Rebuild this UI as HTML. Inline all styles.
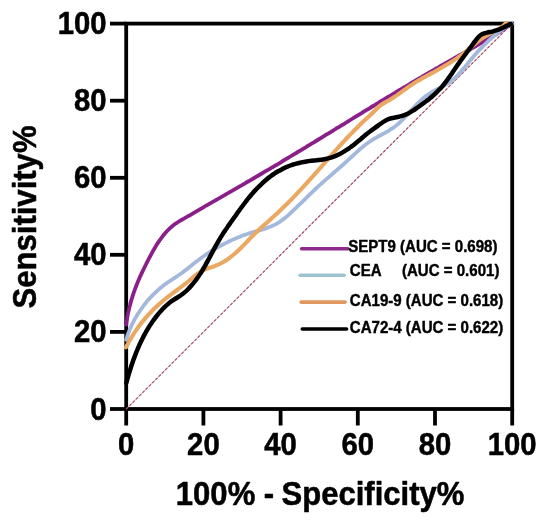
<!DOCTYPE html>
<html><head><meta charset="utf-8"><title>ROC</title>
<style>
html,body{margin:0;padding:0;background:#fff}
body{width:550px;height:525px;overflow:hidden}
svg{display:block}
text{font-family:"Liberation Sans",sans-serif;font-weight:bold;fill:#000;stroke:#000;stroke-width:0.5px;stroke-linejoin:round}
.tk{font-size:29.3px}
.lb{font-size:31.05px}
.lg{font-size:15.05px;stroke-width:0.4px}
</style></head><body>
<svg width="550" height="525" viewBox="0 0 550 525">
<rect width="550" height="525" fill="#fff"/>
<rect x="126.2" y="23.6" width="386.0" height="385.4" fill="none" stroke="#000" stroke-width="3.8"/>
<line x1="110.0" y1="409.0" x2="126.2" y2="409.0" stroke="#000" stroke-width="3.8"/>
<line x1="126.2" y1="409.0" x2="126.2" y2="425.5" stroke="#000" stroke-width="3.8"/>
<text class="tk" transform="translate(106.5 419.5) scale(1 1.065)" text-anchor="end">0</text>
<text class="tk" transform="translate(126.2 455.3) scale(1 1.065)" text-anchor="middle">0</text>
<line x1="110.0" y1="331.9" x2="126.2" y2="331.9" stroke="#000" stroke-width="3.8"/>
<line x1="203.4" y1="409.0" x2="203.4" y2="425.5" stroke="#000" stroke-width="3.8"/>
<text class="tk" transform="translate(106.5 342.4) scale(1 1.065)" text-anchor="end">20</text>
<text class="tk" transform="translate(203.4 455.3) scale(1 1.065)" text-anchor="middle">20</text>
<line x1="110.0" y1="254.8" x2="126.2" y2="254.8" stroke="#000" stroke-width="3.8"/>
<line x1="280.6" y1="409.0" x2="280.6" y2="425.5" stroke="#000" stroke-width="3.8"/>
<text class="tk" transform="translate(106.5 265.3) scale(1 1.065)" text-anchor="end">40</text>
<text class="tk" transform="translate(280.6 455.3) scale(1 1.065)" text-anchor="middle">40</text>
<line x1="110.0" y1="177.8" x2="126.2" y2="177.8" stroke="#000" stroke-width="3.8"/>
<line x1="357.8" y1="409.0" x2="357.8" y2="425.5" stroke="#000" stroke-width="3.8"/>
<text class="tk" transform="translate(106.5 188.3) scale(1 1.065)" text-anchor="end">60</text>
<text class="tk" transform="translate(357.8 455.3) scale(1 1.065)" text-anchor="middle">60</text>
<line x1="110.0" y1="100.7" x2="126.2" y2="100.7" stroke="#000" stroke-width="3.8"/>
<line x1="435.0" y1="409.0" x2="435.0" y2="425.5" stroke="#000" stroke-width="3.8"/>
<text class="tk" transform="translate(106.5 111.2) scale(1 1.065)" text-anchor="end">80</text>
<text class="tk" transform="translate(435.0 455.3) scale(1 1.065)" text-anchor="middle">80</text>
<line x1="110.0" y1="23.6" x2="126.2" y2="23.6" stroke="#000" stroke-width="3.8"/>
<line x1="512.2" y1="409.0" x2="512.2" y2="425.5" stroke="#000" stroke-width="3.8"/>
<text class="tk" transform="translate(106.5 34.1) scale(1 1.065)" text-anchor="end">100</text>
<text class="tk" transform="translate(512.2 455.3) scale(1 1.065)" text-anchor="middle">100</text>
<line x1="126.2" y1="409.0" x2="512.2" y2="23.6" stroke="#dda0aa" stroke-width="1.0"/>
<line x1="126.2" y1="409.0" x2="512.2" y2="23.6" stroke="#a25265" stroke-width="1.1" stroke-dasharray="2.8 1.8"/>
<path d="M126.3 324.5C126.4 323.7 126.7 321.1 127.0 319.5C127.2 317.8 127.5 316.1 127.8 314.5C128.1 312.8 128.5 311.2 128.9 309.6C129.2 307.9 129.6 306.3 130.1 304.7C130.5 303.1 130.9 301.5 131.4 299.9C131.9 298.3 132.4 296.8 132.9 295.2C133.4 293.6 134.0 292.1 134.5 290.5C135.1 288.9 135.7 287.4 136.3 285.8C136.9 284.3 137.5 282.8 138.1 281.2C138.8 279.7 139.4 278.2 140.1 276.6C140.8 275.1 141.5 273.6 142.2 272.1C142.9 270.6 143.6 269.1 144.4 267.6C145.1 266.1 145.8 264.6 146.6 263.1C147.4 261.6 148.1 260.1 148.9 258.6C149.7 257.1 150.5 255.6 151.3 254.1C152.1 252.6 152.9 251.1 153.8 249.7C154.6 248.2 155.5 246.8 156.3 245.3C157.2 243.9 158.1 242.5 159.1 241.1C160.0 239.8 161.0 238.4 162.0 237.1C163.0 235.8 164.1 234.5 165.1 233.3C166.2 232.0 167.3 230.8 168.5 229.7C169.7 228.5 170.9 227.4 172.2 226.3C173.4 225.3 174.7 224.3 176.1 223.3C177.5 222.4 178.9 221.5 180.3 220.6C181.7 219.8 183.2 219.0 184.7 218.1C186.2 217.3 187.7 216.5 189.1 215.7C190.6 214.9 192.0 214.0 193.4 213.2C194.9 212.3 196.3 211.5 197.7 210.6C199.1 209.8 200.6 208.9 202.0 208.1C203.4 207.2 204.9 206.4 206.3 205.5C207.7 204.7 209.2 203.9 210.6 203.1C212.1 202.2 213.5 201.4 215.0 200.6C216.4 199.7 217.9 198.9 219.4 198.1C220.8 197.3 222.3 196.4 223.7 195.6C225.1 194.8 226.6 193.9 228.0 193.1C229.5 192.3 230.9 191.4 232.4 190.6C233.8 189.8 235.3 188.9 236.7 188.1C238.2 187.3 239.6 186.4 241.1 185.6C242.5 184.8 244.0 183.9 245.4 183.1C246.8 182.2 248.3 181.4 249.7 180.6C251.2 179.7 252.6 178.9 254.1 178.0C255.5 177.2 256.9 176.4 258.4 175.5C259.8 174.7 261.3 173.8 262.7 173.0C264.1 172.1 265.6 171.3 267.0 170.4C268.5 169.6 269.9 168.7 271.3 167.9C272.8 167.0 274.2 166.2 275.6 165.3C277.1 164.5 278.5 163.6 279.9 162.8C281.4 161.9 282.8 161.1 284.2 160.2C285.7 159.3 287.1 158.5 288.5 157.6C290.0 156.8 291.4 155.9 292.8 155.0C294.3 154.2 295.7 153.3 297.1 152.5C298.6 151.6 300.0 150.7 301.4 149.9C302.8 149.0 304.3 148.1 305.7 147.3C307.1 146.4 308.6 145.5 310.0 144.7C311.4 143.8 312.8 142.9 314.3 142.1C315.7 141.2 317.1 140.3 318.5 139.5C320.0 138.6 321.4 137.7 322.8 136.8C324.2 136.0 325.7 135.1 327.1 134.2C328.5 133.4 329.9 132.5 331.4 131.6C332.8 130.7 334.2 129.9 335.6 129.0C337.1 128.1 338.5 127.2 339.9 126.4C341.3 125.5 342.8 124.6 344.2 123.8C345.6 122.9 347.0 122.0 348.5 121.1C349.9 120.3 351.3 119.4 352.7 118.5C354.1 117.6 355.6 116.8 357.0 115.9C358.4 115.0 359.8 114.2 361.3 113.3C362.7 112.4 364.1 111.5 365.5 110.7C367.0 109.8 368.4 108.9 369.8 108.1C371.2 107.2 372.7 106.3 374.1 105.5C375.5 104.6 376.9 103.7 378.4 102.9C379.8 102.0 381.2 101.1 382.7 100.3C384.1 99.4 385.5 98.5 386.9 97.7C388.4 96.8 389.8 95.9 391.2 95.1C392.7 94.2 394.1 93.4 395.5 92.5C397.0 91.6 398.4 90.8 399.8 89.9C401.3 89.1 402.7 88.2 404.1 87.3C405.6 86.5 407.0 85.6 408.4 84.8C409.9 83.9 411.3 83.1 412.7 82.2C414.2 81.4 415.6 80.5 417.0 79.7C418.5 78.8 419.9 78.0 421.4 77.2C422.8 76.3 424.2 75.5 425.7 74.6C427.1 73.8 428.6 72.9 430.0 72.1C431.5 71.3 432.9 70.4 434.4 69.6C435.8 68.8 437.2 67.9 438.7 67.1C440.1 66.3 441.6 65.5 443.0 64.6C444.5 63.8 445.9 63.0 447.4 62.2C448.9 61.3 450.3 60.5 451.8 59.7C453.2 58.9 454.7 58.1 456.1 57.2C457.6 56.4 459.0 55.6 460.5 54.8C461.9 54.0 463.4 53.2 464.8 52.3C466.3 51.5 467.8 50.7 469.2 49.9C470.7 49.0 472.1 48.2 473.6 47.4C475.0 46.6 476.5 45.8 477.9 44.9C479.4 44.1 480.8 43.3 482.3 42.4C483.7 41.6 485.2 40.8 486.6 39.9C488.0 39.1 489.5 38.2 490.9 37.4C492.3 36.5 493.8 35.6 495.2 34.8C496.6 33.9 498.0 33.0 499.4 32.1C500.8 31.2 502.2 30.3 503.6 29.3C505.0 28.4 506.4 27.5 507.7 26.5C509.1 25.6 511.1 24.1 511.8 23.6" fill="none" stroke="#8b1f8a" stroke-width="3.8" stroke-linecap="round" stroke-linejoin="round"/>
<path d="M126.2 339.7C126.5 338.9 127.2 336.5 127.7 334.9C128.3 333.4 128.9 331.8 129.5 330.3C130.1 328.7 130.8 327.2 131.5 325.6C132.2 324.1 133.0 322.6 133.7 321.1C134.5 319.6 135.3 318.2 136.2 316.7C137.1 315.3 137.9 313.8 138.9 312.4C139.8 311.0 140.7 309.6 141.7 308.3C142.7 306.9 143.7 305.5 144.7 304.2C145.8 302.9 146.8 301.6 147.9 300.3C149.0 299.1 150.1 297.8 151.3 296.6C152.4 295.4 153.6 294.2 154.8 293.1C156.0 291.9 157.2 290.8 158.5 289.7C159.7 288.6 161.0 287.5 162.3 286.5C163.6 285.4 165.0 284.4 166.3 283.4C167.7 282.5 169.1 281.5 170.5 280.6C171.9 279.7 173.3 278.7 174.7 277.8C176.1 276.9 177.5 276.0 178.9 275.0C180.3 274.1 181.6 273.1 183.0 272.1C184.3 271.1 185.6 270.1 187.0 269.1C188.3 268.0 189.6 267.0 190.9 265.9C192.2 264.9 193.5 263.8 194.8 262.8C196.1 261.8 197.4 260.8 198.8 259.8C200.1 258.8 201.5 257.8 202.9 256.8C204.2 255.8 205.6 254.9 207.0 253.9C208.4 253.0 209.9 252.1 211.3 251.2C212.7 250.3 214.1 249.4 215.6 248.6C217.0 247.7 218.5 246.9 220.0 246.1C221.4 245.3 222.9 244.5 224.4 243.7C225.9 243.0 227.4 242.2 228.9 241.5C230.4 240.8 231.9 240.1 233.4 239.4C234.9 238.7 236.5 238.1 238.0 237.4C239.6 236.8 241.1 236.2 242.7 235.6C244.3 235.0 245.8 234.5 247.4 234.0C249.0 233.4 250.6 232.9 252.2 232.4C253.9 231.9 255.5 231.5 257.1 231.0C258.7 230.6 260.4 230.1 262.0 229.6C263.6 229.1 265.2 228.6 266.8 228.1C268.4 227.5 269.9 226.9 271.4 226.3C273.0 225.6 274.5 224.9 275.9 224.1C277.4 223.3 278.8 222.5 280.2 221.6C281.5 220.6 282.9 219.6 284.2 218.6C285.5 217.6 286.8 216.5 288.1 215.4C289.3 214.3 290.6 213.1 291.8 211.9C293.0 210.8 294.3 209.6 295.5 208.4C296.7 207.2 297.9 206.0 299.1 204.8C300.3 203.6 301.5 202.5 302.7 201.3C303.9 200.1 305.1 198.9 306.3 197.8C307.5 196.6 308.7 195.5 309.9 194.3C311.1 193.2 312.3 192.0 313.5 190.9C314.7 189.7 315.9 188.6 317.1 187.5C318.3 186.3 319.6 185.2 320.8 184.1C322.0 183.0 323.3 181.9 324.5 180.8C325.8 179.7 327.0 178.6 328.3 177.5C329.6 176.4 330.8 175.3 332.1 174.2C333.4 173.1 334.6 172.0 335.9 170.9C337.2 169.8 338.4 168.7 339.7 167.6C341.0 166.5 342.2 165.4 343.5 164.3C344.7 163.1 346.0 162.0 347.2 160.9C348.5 159.8 349.7 158.6 350.9 157.5C352.2 156.4 353.4 155.2 354.6 154.1C355.9 152.9 357.1 151.8 358.3 150.7C359.6 149.6 360.8 148.5 362.1 147.4C363.4 146.4 364.7 145.3 366.0 144.3C367.3 143.3 368.7 142.3 370.1 141.4C371.5 140.4 372.9 139.6 374.3 138.7C375.8 137.8 377.3 137.0 378.7 136.2C380.2 135.4 381.7 134.6 383.2 133.8C384.7 133.0 386.2 132.1 387.6 131.3C389.1 130.4 390.5 129.6 391.9 128.7C393.3 127.7 394.7 126.8 396.0 125.8C397.3 124.7 398.5 123.7 399.8 122.5C401.0 121.4 402.2 120.2 403.4 119.0C404.5 117.8 405.7 116.6 406.8 115.3C407.9 114.1 409.0 112.8 410.2 111.6C411.3 110.3 412.4 109.0 413.5 107.8C414.7 106.6 415.8 105.3 417.0 104.1C418.1 102.9 419.3 101.7 420.5 100.6C421.8 99.5 423.0 98.4 424.3 97.3C425.6 96.3 426.9 95.3 428.3 94.3C429.6 93.4 431.0 92.5 432.5 91.6C433.9 90.8 435.4 90.0 436.9 89.2C438.4 88.5 440.0 87.7 441.5 87.0C443.0 86.2 444.5 85.5 445.9 84.6C447.4 83.8 448.8 82.9 450.1 81.9C451.4 81.0 452.7 79.9 454.0 78.8C455.2 77.7 456.4 76.5 457.5 75.4C458.7 74.2 459.8 72.9 460.9 71.7C462.0 70.4 463.1 69.1 464.2 67.8C465.2 66.5 466.3 65.2 467.4 63.9C468.4 62.6 469.5 61.3 470.6 60.0C471.7 58.7 472.8 57.4 473.9 56.1C475.0 54.8 476.1 53.6 477.2 52.3C478.3 51.1 479.4 49.9 480.6 48.6C481.7 47.4 482.9 46.2 484.1 45.1C485.3 43.9 486.5 42.7 487.7 41.6C488.9 40.4 490.1 39.3 491.4 38.2C492.6 37.1 493.9 36.0 495.2 35.0C496.5 33.9 497.8 32.9 499.1 31.9C500.5 30.9 501.8 29.9 503.2 29.0C504.6 28.0 506.0 27.1 507.4 26.2C508.9 25.3 511.1 24.0 511.8 23.6" fill="none" stroke="#a3b9dc" stroke-width="3.8" stroke-linecap="round" stroke-linejoin="round"/>
<path d="M126.0 347.3C126.4 346.6 127.5 344.3 128.3 342.9C129.1 341.4 129.9 339.9 130.8 338.5C131.6 337.1 132.5 335.7 133.4 334.3C134.3 332.8 135.2 331.5 136.2 330.1C137.1 328.7 138.1 327.4 139.1 326.0C140.1 324.7 141.1 323.4 142.1 322.1C143.2 320.8 144.3 319.5 145.3 318.2C146.4 317.0 147.5 315.7 148.7 314.5C149.8 313.2 151.0 312.0 152.1 310.8C153.3 309.7 154.5 308.5 155.7 307.3C156.9 306.2 158.1 305.0 159.4 303.9C160.6 302.8 161.9 301.7 163.1 300.7C164.4 299.6 165.7 298.5 167.0 297.5C168.3 296.5 169.7 295.5 171.0 294.5C172.3 293.5 173.6 292.5 175.0 291.5C176.3 290.5 177.7 289.5 179.0 288.5C180.3 287.5 181.7 286.6 183.0 285.5C184.3 284.5 185.7 283.5 187.0 282.5C188.3 281.4 189.5 280.3 190.8 279.3C192.1 278.2 193.4 277.1 194.6 276.0C195.9 275.0 197.2 273.9 198.6 273.0C199.9 272.0 201.3 271.1 202.8 270.4C204.3 269.6 205.8 269.0 207.4 268.5C209.0 267.9 210.7 267.5 212.3 267.0C213.9 266.4 215.5 265.9 217.0 265.2C218.5 264.5 220.0 263.8 221.5 263.0C223.0 262.2 224.4 261.4 225.8 260.5C227.2 259.6 228.5 258.6 229.8 257.6C231.2 256.6 232.5 255.5 233.7 254.5C235.0 253.4 236.3 252.3 237.5 251.1C238.7 250.0 239.9 248.8 241.1 247.7C242.3 246.5 243.5 245.3 244.7 244.1C245.9 242.9 247.0 241.7 248.2 240.5C249.3 239.3 250.5 238.1 251.6 236.9C252.8 235.7 254.0 234.5 255.1 233.4C256.3 232.2 257.5 231.0 258.7 229.9C259.9 228.8 261.2 227.6 262.4 226.5C263.7 225.4 264.9 224.4 266.2 223.3C267.4 222.2 268.7 221.1 269.9 219.9C271.2 218.8 272.4 217.7 273.6 216.6C274.9 215.5 276.1 214.3 277.3 213.2C278.5 212.0 279.7 210.9 280.9 209.7C282.1 208.6 283.3 207.4 284.5 206.3C285.7 205.1 286.9 203.9 288.1 202.7C289.2 201.6 290.4 200.4 291.6 199.2C292.8 198.0 293.9 196.8 295.1 195.6C296.2 194.4 297.4 193.2 298.5 191.9C299.7 190.7 300.8 189.5 301.9 188.3C303.1 187.1 304.2 185.8 305.3 184.6C306.5 183.4 307.6 182.2 308.7 180.9C309.8 179.7 310.9 178.4 312.1 177.2C313.2 176.0 314.3 174.7 315.4 173.5C316.5 172.2 317.6 171.0 318.7 169.7C319.8 168.5 320.9 167.2 322.0 166.0C323.1 164.7 324.2 163.4 325.3 162.2C326.4 160.9 327.5 159.7 328.6 158.4C329.7 157.2 330.7 155.9 331.9 154.7C333.0 153.4 334.1 152.2 335.2 150.9C336.3 149.7 337.4 148.5 338.5 147.2C339.6 146.0 340.7 144.8 341.9 143.5C343.0 142.3 344.1 141.1 345.3 139.9C346.4 138.6 347.5 137.4 348.7 136.2C349.8 135.0 351.0 133.8 352.2 132.6C353.3 131.4 354.5 130.2 355.7 129.0C356.9 127.9 358.0 126.7 359.2 125.5C360.4 124.4 361.6 123.2 362.8 122.1C364.0 120.9 365.3 119.8 366.5 118.6C367.7 117.5 368.9 116.3 370.1 115.2C371.3 114.0 372.5 112.9 373.7 111.7C374.9 110.5 376.1 109.3 377.3 108.2C378.5 107.1 379.7 105.9 381.0 105.0C382.4 104.0 383.8 103.2 385.2 102.4C386.7 101.5 388.2 100.8 389.6 100.0C391.0 99.1 392.4 98.2 393.8 97.3C395.2 96.4 396.6 95.5 397.9 94.5C399.3 93.6 400.7 92.6 402.0 91.6C403.4 90.6 404.7 89.6 406.1 88.7C407.4 87.7 408.8 86.7 410.2 85.8C411.6 84.8 413.0 83.9 414.4 83.0C415.8 82.2 417.2 81.3 418.6 80.4C420.1 79.6 421.5 78.7 423.0 77.9C424.4 77.1 425.9 76.3 427.4 75.5C428.8 74.7 430.3 73.9 431.8 73.1C433.2 72.3 434.7 71.5 436.2 70.7C437.6 69.9 439.1 69.1 440.5 68.3C442.0 67.5 443.5 66.6 444.9 65.8C446.3 65.0 447.8 64.1 449.2 63.3C450.6 62.4 452.0 61.5 453.4 60.6C454.8 59.7 456.2 58.8 457.6 57.9C458.9 56.9 460.3 56.0 461.6 55.0C462.9 54.0 464.2 52.9 465.5 51.9C466.8 50.8 468.1 49.7 469.4 48.6C470.6 47.5 471.9 46.4 473.2 45.3C474.5 44.3 475.7 43.2 477.0 42.1C478.3 41.1 479.6 40.1 481.0 39.1C482.3 38.1 483.7 37.2 485.1 36.3C486.5 35.4 488.0 34.6 489.4 33.8C490.9 33.0 492.4 32.2 493.9 31.4C495.4 30.6 496.8 29.9 498.3 29.0C499.7 28.1 501.1 27.3 502.5 26.3C503.8 25.3 505.7 23.5 506.3 23.0" fill="none" stroke="#eba862" stroke-width="4.1" stroke-linecap="round" stroke-linejoin="round"/>
<path d="M126.3 383.0C126.5 382.2 127.2 379.8 127.6 378.2C128.1 376.6 128.5 375.0 129.0 373.4C129.5 371.8 130.0 370.2 130.5 368.6C131.0 367.0 131.5 365.4 132.1 363.8C132.6 362.2 133.1 360.6 133.7 359.1C134.3 357.5 134.9 355.9 135.5 354.4C136.1 352.8 136.7 351.3 137.4 349.7C138.0 348.2 138.7 346.6 139.3 345.1C140.0 343.6 140.7 342.1 141.5 340.6C142.2 339.1 142.9 337.6 143.7 336.1C144.5 334.6 145.3 333.2 146.1 331.7C146.9 330.3 147.8 328.9 148.7 327.4C149.5 326.0 150.4 324.6 151.4 323.2C152.3 321.9 153.3 320.5 154.3 319.2C155.2 317.8 156.3 316.5 157.3 315.2C158.4 313.9 159.4 312.6 160.6 311.3C161.7 310.1 162.8 308.8 164.0 307.7C165.2 306.5 166.4 305.3 167.7 304.3C168.9 303.2 170.2 302.1 171.6 301.2C172.9 300.2 174.3 299.4 175.7 298.5C177.1 297.6 178.6 296.8 180.0 295.9C181.4 294.9 182.7 294.0 184.0 292.9C185.3 291.8 186.6 290.7 187.8 289.5C189.0 288.3 190.1 287.1 191.2 285.8C192.3 284.6 193.4 283.3 194.4 282.0C195.4 280.7 196.4 279.4 197.4 278.0C198.3 276.7 199.3 275.3 200.2 273.9C201.1 272.5 201.9 271.1 202.8 269.7C203.6 268.2 204.5 266.8 205.3 265.3C206.1 263.9 206.9 262.4 207.7 260.9C208.5 259.5 209.3 258.0 210.1 256.5C210.9 255.0 211.6 253.5 212.4 252.1C213.2 250.6 214.0 249.1 214.8 247.6C215.6 246.1 216.4 244.7 217.3 243.2C218.1 241.8 218.9 240.3 219.8 238.9C220.6 237.5 221.5 236.0 222.4 234.6C223.3 233.2 224.2 231.9 225.1 230.5C226.1 229.1 227.0 227.8 227.9 226.4C228.9 225.0 229.8 223.7 230.8 222.3C231.8 220.9 232.7 219.6 233.7 218.2C234.7 216.9 235.6 215.5 236.6 214.1C237.6 212.8 238.5 211.4 239.5 210.0C240.5 208.7 241.5 207.3 242.5 206.0C243.5 204.6 244.5 203.3 245.5 202.0C246.5 200.6 247.6 199.3 248.6 198.0C249.7 196.7 250.8 195.4 251.8 194.1C252.9 192.9 254.0 191.6 255.2 190.4C256.3 189.2 257.4 187.9 258.6 186.8C259.8 185.6 261.0 184.4 262.2 183.3C263.4 182.2 264.7 181.0 265.9 180.0C267.2 178.9 268.5 177.9 269.8 176.9C271.2 175.9 272.5 174.9 273.9 174.0C275.3 173.0 276.7 172.1 278.1 171.3C279.5 170.5 281.0 169.7 282.5 168.9C284.0 168.2 285.5 167.5 287.0 166.8C288.5 166.2 290.1 165.6 291.7 165.0C293.3 164.5 294.9 164.0 296.5 163.6C298.1 163.2 299.8 162.8 301.4 162.4C303.1 162.1 304.7 161.8 306.4 161.5C308.0 161.2 309.7 161.0 311.4 160.8C313.0 160.6 314.7 160.4 316.3 160.3C318.0 160.1 319.6 159.9 321.3 159.7C322.9 159.5 324.5 159.2 326.2 158.9C327.8 158.5 329.4 158.1 331.0 157.6C332.6 157.1 334.2 156.5 335.7 155.9C337.3 155.2 338.8 154.5 340.3 153.7C341.8 153.0 343.2 152.1 344.6 151.2C346.0 150.4 347.4 149.4 348.8 148.5C350.1 147.5 351.5 146.5 352.8 145.5C354.1 144.5 355.4 143.4 356.7 142.4C358.0 141.3 359.3 140.2 360.6 139.2C361.9 138.1 363.1 137.0 364.4 135.9C365.7 134.9 367.0 133.8 368.3 132.8C369.6 131.8 371.0 130.8 372.3 129.8C373.6 128.8 375.0 127.9 376.3 126.9C377.7 125.9 379.0 124.9 380.4 123.9C381.8 123.0 383.2 121.9 384.6 121.1C386.0 120.3 387.5 119.5 389.1 118.9C390.6 118.4 392.3 118.0 393.9 117.7C395.5 117.3 397.2 117.1 398.8 116.7C400.4 116.3 402.1 116.0 403.6 115.4C405.2 114.9 406.7 114.2 408.2 113.5C409.6 112.7 411.1 111.8 412.5 110.9C413.9 110.1 415.3 109.1 416.6 108.1C418.0 107.2 419.4 106.2 420.7 105.2C422.1 104.2 423.5 103.2 424.8 102.2C426.1 101.2 427.5 100.2 428.8 99.2C430.1 98.1 431.4 97.1 432.6 96.0C433.9 94.9 435.1 93.8 436.3 92.6C437.5 91.5 438.7 90.3 439.8 89.1C441.0 87.9 442.1 86.6 443.1 85.3C444.2 84.0 445.2 82.7 446.2 81.4C447.2 80.1 448.2 78.7 449.1 77.3C450.1 76.0 451.0 74.6 452.0 73.2C452.9 71.8 453.8 70.4 454.8 69.0C455.7 67.6 456.7 66.3 457.6 64.9C458.6 63.5 459.6 62.2 460.6 60.8C461.5 59.5 462.5 58.1 463.5 56.8C464.5 55.4 465.5 54.1 466.5 52.7C467.5 51.4 468.5 50.1 469.5 48.7C470.5 47.4 471.5 46.1 472.5 44.7C473.5 43.4 474.4 42.0 475.5 40.7C476.5 39.4 477.4 37.9 478.6 36.8C479.7 35.7 481.0 34.8 482.4 34.1C483.8 33.4 485.5 33.0 487.2 32.6C488.8 32.2 490.6 32.0 492.3 31.6C493.9 31.2 495.5 30.7 497.1 30.2C498.7 29.6 500.2 28.9 501.7 28.2C503.2 27.5 504.7 26.8 506.2 26.1C507.7 25.4 510.0 24.4 510.8 24.1" fill="none" stroke="#000" stroke-width="4.5" stroke-linecap="round" stroke-linejoin="round"/>
<line x1="301.6" y1="248.7" x2="347.8" y2="248.7" stroke="#8e2a8c" stroke-width="3.6" stroke-linecap="round"/>
<text class="lg" transform="translate(348.2 252.2) scale(1 1.07)">SEPT9 (AUC = 0.698)</text>
<line x1="300.1" y1="275.3" x2="344.2" y2="275.3" stroke="#9cc4ce" stroke-width="3.6" stroke-linecap="round"/>
<text class="lg" transform="translate(349.8 276.2) scale(1 1.07)">CEA</text>
<line x1="301.1" y1="302.1" x2="345.1" y2="302.1" stroke="#e09860" stroke-width="3.6" stroke-linecap="round"/>
<text class="lg" transform="translate(349.8 305.5) scale(1 1.07)">CA19-9 (AUC = 0.618)</text>
<line x1="302.3" y1="329.0" x2="346.6" y2="329.0" stroke="#000" stroke-width="3.6" stroke-linecap="round"/>
<text class="lg" transform="translate(349.8 332.9) scale(1 1.07)">CA72-4 (AUC = 0.622)</text>
<text class="lg" transform="translate(402.0 276.2) scale(1 1.07)">(AUC = 0.601)</text>
<text class="lb" transform="translate(320.1 505.1) scale(1 1.095)" text-anchor="middle">100% - <tspan dx="-1.3">Specificity%</tspan></text>
<text class="lb" transform="translate(36 217.0) rotate(-90) scale(1.001 1.07)" text-anchor="middle">Sensitivity%</text>
</svg>
</body></html>
